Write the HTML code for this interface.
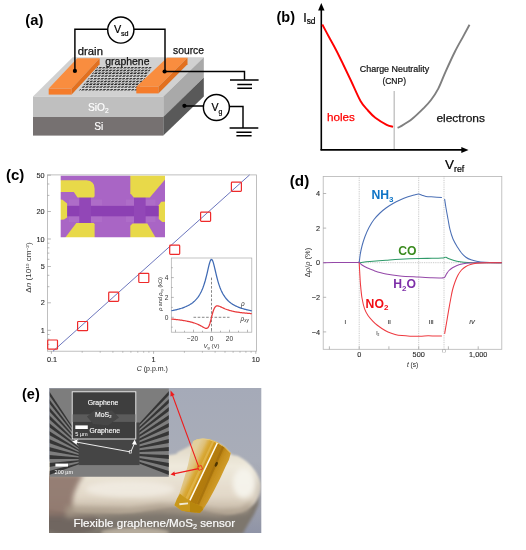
<!DOCTYPE html>
<html><head><meta charset="utf-8"><title>Graphene gas sensor figure</title>
<style>html,body{margin:0;padding:0;background:#fff}svg{display:block}text{font-family:'Liberation Sans', sans-serif}</style></head>
<body>
<svg width="526" height="550" viewBox="0 0 526 550">
<defs><filter id="b05" x="-5%" y="-5%" width="110%" height="110%"><feGaussianBlur stdDeviation="0.45"/></filter><filter id="b03" x="-5%" y="-5%" width="110%" height="110%"><feGaussianBlur stdDeviation="0.3"/></filter></defs>
<rect width="526" height="550" fill="#fff"/>
<g id="pa">
<polygon points="33.0,96.5 163.3,96.5 203.8,57.2 72.7,57.2" fill="#d1d1d1"/>
<rect x="33" y="96.5" width="130.3" height="20.7" fill="#bfbfbf"/>
<rect x="33" y="117" width="130.3" height="18.6" fill="#767171"/>
<polygon points="163.3,96.5 203.8,57.2 203.8,77.6 163.3,117.2" fill="#a9a9a9"/>
<polygon points="163.3,117.0 203.8,77.4 203.8,96.5 163.3,135.6" fill="#595959"/>
<defs><pattern id="hex" width="3.56" height="5.5" patternUnits="userSpaceOnUse" patternTransform="translate(78.7,91.2) skewX(-38)">
<rect width="3.56" height="5.5" fill="#dcdcdc"/><rect x="0.1" y="0.5" width="2.5" height="1.55" fill="#262626"/><rect x="1.88" y="3.25" width="1.68" height="1.55" fill="#262626"/><rect x="0" y="3.25" width="0.82" height="1.55" fill="#262626"/>
</pattern></defs>
<polygon points="97.8,66.6 152.4,66.6 137.0,91.0 78.7,91.0" fill="url(#hex)" filter="url(#b03)"/>
<polygon points="77.3,58.3 99.6,58.3 71.7,88.6 48.7,88.6" fill="#f98d3f"/><polygon points="48.7,88.6 71.7,88.6 71.7,94.6 48.7,94.6" fill="#f57c2b"/><polygon points="71.7,88.6 99.6,58.3 99.6,64.3 71.7,94.6" fill="#e2701f"/>
<polygon points="167.1,57.7 187.5,57.7 158.4,86.8 136.3,86.8" fill="#f98d3f"/><polygon points="136.3,86.8 158.4,86.8 158.4,93.4 136.3,93.4" fill="#f57c2b"/><polygon points="158.4,86.8 187.5,57.7 187.5,64.3 158.4,93.4" fill="#e2701f"/>
<path d="M74.9,71 V29.2 H107.7 M133.9,29.2 H165 V71.4 H244.5 V79.7" fill="none" stroke="#000" stroke-width="1.45"/>
<circle cx="120.8" cy="30" r="13.1" fill="#fff" stroke="#000" stroke-width="1.45"/>
<circle cx="74.9" cy="70.9" r="2.1"/><circle cx="164.6" cy="71.5" r="2.1"/>
<path d="M230,80 H258.6 M237.3,84.5 H252 M237.3,88.2 H252" fill="none" stroke="#000" stroke-width="1.45"/>
<path d="M184.4,106 H203.5 M229.5,106.5 H243 V127.9" fill="none" stroke="#000" stroke-width="1.45"/>
<circle cx="216.4" cy="107.5" r="13" fill="#fff" stroke="#000" stroke-width="1.45"/>
<circle cx="184.4" cy="105.8" r="2.1"/>
<path d="M229.6,128 H258.3 M236.4,132.3 H251.6 M236.4,135.7 H251.6" fill="none" stroke="#000" stroke-width="1.45"/>
<text x="25.3" y="25" font-size="14.8" font-weight="bold">(a)</text>
<text x="77.8" y="54.5" font-size="11.3" fill="#111" stroke="#111" stroke-width="0.25">drain</text>
<text x="105.3" y="65" font-size="11.3" fill="#111" stroke="#111" stroke-width="0.25" textLength="44.2" lengthAdjust="spacingAndGlyphs">graphene</text>
<text x="173" y="54.3" font-size="10.9" fill="#111" stroke="#111" stroke-width="0.25" textLength="31" lengthAdjust="spacingAndGlyphs">source</text>
<text x="114" y="33.3" font-size="10.8" stroke="#000" stroke-width="0.2">V<tspan font-size="7.2" dy="2.3" dx="-0.3">sd</tspan></text>
<text x="211.5" y="111.2" font-size="10.6" stroke="#000" stroke-width="0.2">V<tspan font-size="7" dy="2.3">g</tspan></text>
<text x="88" y="110.9" font-size="10.2" fill="#fff" stroke="#fff" stroke-width="0.15">SiO<tspan font-size="6.6" dy="2.3">2</tspan></text>
<text x="94.2" y="130" font-size="10.2" fill="#fff" stroke="#fff" stroke-width="0.15">Si</text>
</g>
<g id="pb">
<path d="M321.3,150.2 V9" stroke="#000" stroke-width="1.6" fill="none"/>
<polygon points="321.3,3 318.1,10.5 324.5,10.5" fill="#000"/>
<path d="M320.5,149.9 H462" stroke="#000" stroke-width="1.6" fill="none"/>
<polygon points="468.5,149.9 461.3,146.9 461.3,152.9" fill="#000"/>
<path d="M394.2,91 V149" stroke="#bdbdbd" stroke-width="1.3"/>
<path d="M322.30,24.50C323.42,26.58 326.68,32.72 329.00,37.00C331.32,41.28 333.87,45.70 336.20,50.20C338.53,54.70 340.55,58.95 343.00,64.00C345.45,69.05 347.98,74.33 350.90,80.50C353.82,86.67 357.65,96.00 360.50,101.00C363.35,106.00 365.53,107.70 368.00,110.50C370.47,113.30 372.18,115.42 375.30,117.80C378.42,120.18 383.75,123.30 386.70,124.80C389.65,126.30 391.95,126.47 393.00,126.80" stroke="#ff0000" stroke-width="1.9" fill="none"/>
<path d="M397.60,127.80C398.00,127.63 397.60,128.27 400.00,126.80C402.40,125.33 408.00,122.17 412.00,119.00C416.00,115.83 420.83,110.97 424.00,107.80C427.17,104.63 428.62,103.20 431.00,100.00C433.38,96.80 435.88,93.28 438.30,88.60C440.72,83.92 442.72,78.08 445.50,71.90C448.28,65.72 452.00,57.50 455.00,51.50C458.00,45.50 461.08,40.37 463.50,35.90C465.92,31.43 468.50,26.57 469.50,24.70" stroke="#7f7f7f" stroke-width="1.9" fill="none"/>
<text x="276.5" y="21.5" font-size="14.5" font-weight="bold">(b)</text>
<text x="303.2" y="21.5" font-size="12.5" stroke="#000" stroke-width="0.2">I<tspan font-size="8.4" dy="2.5">sd</tspan></text>
<text x="327" y="120.5" font-size="11.7" fill="#ff0000" stroke="#ff0000" stroke-width="0.25">holes</text>
<text x="436.4" y="121.6" font-size="11.7" fill="#111" stroke="#111" stroke-width="0.25" textLength="48.6" lengthAdjust="spacingAndGlyphs">electrons</text>
<text x="394.5" y="71.5" font-size="8.5" text-anchor="middle" fill="#111" stroke="#111" stroke-width="0.2" textLength="69.4" lengthAdjust="spacingAndGlyphs">Charge Neutrality</text>
<text x="394.2" y="83.5" font-size="8.5" text-anchor="middle" fill="#111" stroke="#111" stroke-width="0.2">(CNP)</text>
<text x="445" y="169" font-size="13.5" stroke="#000" stroke-width="0.2">V<tspan font-size="8.8" dy="2.5">ref</tspan></text>
</g>
<g id="pc_">
<rect x="47.4" y="174.9" width="209.1" height="176.29999999999998" fill="#fff" stroke="#b0b0b0" stroke-width="0.8"/>
<path d="M47.4,344.4h2M47.4,339.1h2M47.4,334.5h2M47.4,330.3h3.5M47.4,302.8h3.5M47.4,286.7h2M47.4,275.3h2M47.4,266.5h3.5M47.4,259.3h2M47.4,253.1h2M47.4,247.8h2M47.4,243.2h2M47.4,239.0h3.5M47.4,211.5h3.5M47.4,195.4h2M47.4,184.0h2M47.4,175.2h3.5M51.4,351.2v2.6M82.2,351.2v1.5M100.2,351.2v1.5M112.9,351.2v1.5M122.8,351.2v1.5M130.9,351.2v1.5M137.8,351.2v1.5M143.7,351.2v1.5M148.9,351.2v1.5M153.6,351.2v2.6M184.4,351.2v1.5M202.4,351.2v1.5M215.1,351.2v1.5M225.0,351.2v1.5M233.1,351.2v1.5M240.0,351.2v1.5M245.9,351.2v1.5M251.1,351.2v1.5M255.8,351.2v2.6" stroke="#999" stroke-width="0.7" fill="none"/>
<path d="M53,351.2 L249.6,174.9" stroke="#5b67b5" stroke-width="0.9" fill="none"/>
<g fill="none" stroke="#ee2a2a" stroke-width="1.2">
<rect x="47.7" y="340.0" width="9.8" height="9.2" rx="0.8"/>
<rect x="77.6" y="321.5" width="10.0" height="9.2" rx="0.8"/>
<rect x="108.7" y="292.1" width="10.0" height="9.2" rx="0.8"/>
<rect x="138.8" y="273.3" width="10.0" height="9.2" rx="0.8"/>
<rect x="169.7" y="245.1" width="10.0" height="9.2" rx="0.8"/>
<rect x="200.6" y="212.1" width="10.0" height="9.2" rx="0.8"/>
<rect x="231.4" y="182.2" width="10.0" height="9.2" rx="0.8"/>
</g>
<text x="44.7" y="177.8" text-anchor="end" font-size="7.3" fill="#2a2a2a" stroke="#2a2a2a" stroke-width="0.12">50</text>
<text x="44.7" y="214.1" text-anchor="end" font-size="7.3" fill="#2a2a2a" stroke="#2a2a2a" stroke-width="0.12">20</text>
<text x="44.7" y="241.6" text-anchor="end" font-size="7.3" fill="#2a2a2a" stroke="#2a2a2a" stroke-width="0.12">10</text>
<text x="44.7" y="269.1" text-anchor="end" font-size="7.3" fill="#2a2a2a" stroke="#2a2a2a" stroke-width="0.12">5</text>
<text x="44.7" y="305.4" text-anchor="end" font-size="7.3" fill="#2a2a2a" stroke="#2a2a2a" stroke-width="0.12">2</text>
<text x="44.7" y="332.9" text-anchor="end" font-size="7.3" fill="#2a2a2a" stroke="#2a2a2a" stroke-width="0.12">1</text>
<text x="52.0" y="362" text-anchor="middle" font-size="7.3" fill="#2a2a2a" stroke="#2a2a2a" stroke-width="0.12">0.1</text>
<text x="153.6" y="362" text-anchor="middle" font-size="7.3" fill="#2a2a2a" stroke="#2a2a2a" stroke-width="0.12">1</text>
<text x="255.8" y="362" text-anchor="middle" font-size="7.3" fill="#2a2a2a" stroke="#2a2a2a" stroke-width="0.12">10</text>
<text x="152.3" y="371" text-anchor="middle" font-size="7" fill="#222"><tspan font-style="italic">C</tspan> (p.p.m.)</text>
<text transform="translate(31.3,267.5) rotate(-90)" text-anchor="middle" font-size="7.4" fill="#333" textLength="50.5" lengthAdjust="spacingAndGlyphs">Δ<tspan font-style="italic">n</tspan> (10<tspan font-size="4.4" dy="-2.4">10</tspan><tspan dy="2.4"> cm</tspan><tspan font-size="4.4" dy="-2.4">−2</tspan><tspan dy="2.4">)</tspan></text>
<text x="6" y="180.3" font-size="15" font-weight="bold">(c)</text>
<defs><clipPath id="mc"><rect x="60.7" y="175.7" width="104.3" height="61.5"/></clipPath></defs>
<g clip-path="url(#mc)"><g filter="url(#b05)">
<rect x="58" y="173" width="110" height="67" fill="#a965c5"/>
<rect x="69" y="199.5" width="10.5" height="6" fill="#ae6dc8"/>
<rect x="91" y="199.5" width="11" height="6" fill="#ae6dc8"/>
<rect x="69" y="215.5" width="10.5" height="6.5" fill="#ae6dc8"/>
<rect x="91" y="215.5" width="11" height="6.5" fill="#ae6dc8"/>
<rect x="126" y="199.5" width="10" height="6" fill="#ae6dc8"/>
<rect x="145.5" y="199.5" width="10" height="6" fill="#ae6dc8"/>
<rect x="126" y="215.5" width="10" height="6.5" fill="#ae6dc8"/>
<rect x="145.5" y="215.5" width="10" height="6.5" fill="#ae6dc8"/>
<rect x="67" y="205.9" width="93" height="10.4" fill="#8c40b3"/>
<rect x="79.3" y="197" width="11.6" height="26.3" fill="#9247b7"/>
<rect x="134" y="197" width="11.6" height="26.3" fill="#9247b7"/>
<path d="M58,180.3 H86.6 Q94.6,180.8 94.6,188.8 V196.3 L93.5,197.4 H77.5 L73.8,191.9 H58 Z" fill="#e8d94a"/>
<polygon points="58.0,199.2 62.5,199.8 67.1,203.4 67.1,217.5 64.0,219.4 58.0,219.9" fill="#e8d94a"/>
<polygon points="65.0,238.0 76.3,222.9 93.7,222.9 94.6,224.2 94.6,238.0" fill="#e8d94a"/>
<polygon points="130.3,173.0 168.0,173.0 168.0,176.0 149.8,197.6 133.8,197.6 130.3,193.2" fill="#e8d94a"/>
<polygon points="168.0,201.5 161.2,201.8 158.8,205.2 158.8,219.0 162.3,222.0 168.0,222.0" fill="#e8d94a"/>
<polygon points="130.3,238.0 130.3,225.8 132.6,223.5 147.4,223.5 155.8,238.0" fill="#e8d94a"/>
</g></g>
<rect x="171.3" y="258" width="80.5" height="74.2" fill="#fff" stroke="#aaa" stroke-width="0.7"/>
<path d="M171.3,317.3h2.5M171.3,297.4h2.5M171.3,277.6h2.5M171.3,327.2h1.5M171.3,307.4h1.5M171.3,287.5h1.5M171.3,267.7h1.5M175.5,332.2v-2.5M193.5,332.2v-2.5M211.5,332.2v-2.5M229.5,332.2v-2.5M247.5,332.2v-2.5M184.5,332.2v-1.5M202.5,332.2v-1.5M220.5,332.2v-1.5M238.5,332.2v-1.5" stroke="#888" stroke-width="0.6" fill="none"/>
<path d="M211.5,277.6 V330.7 M193.5,317.3 H229.5" stroke="#555" stroke-width="0.7" stroke-dasharray="2.6,1.6" fill="none"/>
<path d="M171.36,310.76L172.04,310.63L172.71,310.50L173.39,310.36L174.06,310.22L174.74,310.08L175.41,309.93L176.09,309.77L176.76,309.61L177.44,309.44L178.11,309.26L178.79,309.08L179.46,308.89L180.14,308.69L180.82,308.48L181.49,308.27L182.17,308.04L182.84,307.81L183.52,307.56L184.19,307.30L184.87,307.03L185.54,306.75L186.22,306.45L186.89,306.14L187.57,305.81L188.24,305.46L188.92,305.10L189.60,304.71L190.27,304.30L190.95,303.86L191.62,303.40L192.30,302.91L192.97,302.39L193.65,301.83L194.32,301.24L195.00,300.60L195.67,299.91L196.35,299.17L197.02,298.38L197.70,297.52L198.38,296.59L199.05,295.58L199.73,294.48L200.40,293.29L201.08,291.98L201.75,290.54L202.43,288.97L203.10,287.25L203.78,285.35L204.45,283.27L205.13,281.00L205.80,278.53L206.48,275.87L207.16,273.04L207.83,270.12L208.51,267.21L209.18,264.47L209.86,262.11L210.53,260.38L211.21,259.49L211.88,259.56L212.56,260.57L213.23,262.39L213.91,264.81L214.58,267.59L215.26,270.51L215.93,273.42L216.61,276.23L217.29,278.87L217.96,281.32L218.64,283.56L219.31,285.62L219.99,287.49L220.66,289.19L221.34,290.74L222.01,292.16L222.69,293.45L223.36,294.63L224.04,295.72L224.71,296.72L225.39,297.64L226.07,298.49L226.74,299.28L227.42,300.01L228.09,300.68L228.77,301.32L229.44,301.91L230.12,302.46L230.79,302.98L231.47,303.47L232.14,303.92L232.82,304.36L233.49,304.76L234.17,305.15L234.85,305.51L235.52,305.86L236.20,306.18L236.87,306.49L237.55,306.79L238.22,307.07L238.90,307.34L239.57,307.59L240.25,307.84L240.92,308.07L241.60,308.30L242.27,308.51L242.95,308.72L243.63,308.91L244.30,309.10L244.98,309.28L245.65,309.46L246.33,309.63L247.00,309.79L247.68,309.95L248.35,310.10L249.03,310.24L249.70,310.38L250.38,310.52L251.05,310.65L251.73,310.78" stroke="#3f6ab4" stroke-width="1.25" fill="none"/>
<path d="M171.36,319.01L172.04,319.07L172.71,319.14L173.39,319.21L174.06,319.28L174.74,319.36L175.41,319.43L176.09,319.51L176.76,319.59L177.44,319.67L178.11,319.75L178.79,319.84L179.46,319.93L180.14,320.02L180.82,320.11L181.49,320.21L182.17,320.31L182.84,320.42L183.52,320.52L184.19,320.64L184.87,320.75L185.54,320.87L186.22,321.00L186.89,321.13L187.57,321.27L188.24,321.41L188.92,321.56L189.60,321.71L190.27,321.87L190.95,322.04L191.62,322.22L192.30,322.40L192.97,322.60L193.65,322.81L194.32,323.02L195.00,323.25L195.67,323.49L196.35,323.75L197.02,324.01L197.70,324.30L198.38,324.60L199.05,324.91L199.73,325.24L200.40,325.59L201.08,325.95L201.75,326.32L202.43,326.70L203.10,327.08L203.78,327.44L204.45,327.78L205.13,328.07L205.80,328.27L206.48,328.32L207.16,328.16L207.83,327.71L208.51,326.86L209.18,325.52L209.86,323.65L210.53,321.28L211.21,318.54L211.88,315.81L212.56,313.29L213.23,311.06L213.91,309.23L214.58,307.84L215.26,306.87L215.93,306.26L216.61,305.93L217.29,305.82L217.96,305.87L218.64,306.02L219.31,306.26L219.99,306.53L220.66,306.84L221.34,307.16L222.01,307.48L222.69,307.80L223.36,308.11L224.04,308.41L224.71,308.70L225.39,308.98L226.07,309.24L226.74,309.49L227.42,309.73L228.09,309.95L228.77,310.17L229.44,310.37L230.12,310.56L230.79,310.75L231.47,310.92L232.14,311.08L232.82,311.24L233.49,311.38L234.17,311.52L234.85,311.66L235.52,311.78L236.20,311.90L236.87,312.02L237.55,312.13L238.22,312.23L238.90,312.33L239.57,312.43L240.25,312.52L240.92,312.61L241.60,312.69L242.27,312.77L242.95,312.85L243.63,312.92L244.30,312.99L244.98,313.06L245.65,313.12L246.33,313.18L247.00,313.24L247.68,313.30L248.35,313.36L249.03,313.41L249.70,313.46L250.38,313.51L251.05,313.56L251.73,313.60" stroke="#e8383a" stroke-width="1.25" fill="none"/>
<text x="168.3" y="319.5" text-anchor="end" font-size="6.6" fill="#333">0</text>
<text x="168.3" y="299.6" text-anchor="end" font-size="6.6" fill="#333">2</text>
<text x="168.3" y="279.8" text-anchor="end" font-size="6.6" fill="#333">4</text>
<text x="192.5" y="341" text-anchor="middle" font-size="6.6" fill="#333">−20</text>
<text x="211.5" y="341" text-anchor="middle" font-size="6.6" fill="#333">0</text>
<text x="229.5" y="341" text-anchor="middle" font-size="6.6" fill="#333">20</text>
<text x="211.5" y="347.8" text-anchor="middle" font-size="6" fill="#333"><tspan font-style="italic">V</tspan><tspan font-size="3.8" dy="1.2">g</tspan><tspan dy="-1.2"> (V)</tspan></text>
<text transform="translate(162,294) rotate(-90)" text-anchor="middle" font-size="5.4" fill="#333"><tspan font-style="italic">ρ</tspan> and <tspan font-style="italic">ρ</tspan><tspan font-size="3.6" dy="1.2">xy</tspan><tspan dy="-1.2"> (kΩ)</tspan></text>
<text x="241" y="305.8" font-size="6.4" font-style="italic" fill="#333">ρ</text>
<text x="240.5" y="321" font-size="6.4" font-style="italic" fill="#333">ρ<tspan font-size="4.6" dy="1.4">xy</tspan></text>
</g>
<g id="pd">
<rect x="323.2" y="176.5" width="178.6" height="172.8" fill="#fff" stroke="#b5b5b5" stroke-width="0.8"/>
<path d="M323.2,331.9h3M323.2,297.3h3M323.2,262.7h3M323.2,228.1h3M323.2,193.5h3M329.4,349.3v-3M359.2,349.3v-3M388.9,349.3v-3M418.7,349.3v-3M448.4,349.3v-3M478.2,349.3v-3" stroke="#999" stroke-width="0.7" fill="none"/>
<path d="M359.2,176.5V349.3 M418.7,176.5V349.3 M444,176.5V349.3 M359.2,262.7H501.8" stroke="#aaa" stroke-width="0.7" stroke-dasharray="0.9,0.9" fill="none"/>
<path d="M359.20,262.70C359.38,261.25 359.83,256.78 360.30,254.00C360.77,251.22 361.22,248.92 362.00,246.00C362.78,243.08 363.83,239.58 365.00,236.50C366.17,233.42 367.50,230.33 369.00,227.50C370.50,224.67 372.17,221.92 374.00,219.50C375.83,217.08 378.00,214.92 380.00,213.00C382.00,211.08 383.83,209.58 386.00,208.00C388.17,206.42 390.67,204.83 393.00,203.50C395.33,202.17 397.50,201.12 400.00,200.00C402.50,198.88 405.67,197.63 408.00,196.80C410.33,195.97 412.22,195.47 414.00,195.00C415.78,194.53 417.37,193.97 418.70,194.00C420.03,194.03 420.78,194.80 422.00,195.20C423.22,195.60 424.00,196.10 426.00,196.40C428.00,196.70 431.35,196.80 434.00,197.00C436.65,197.20 440.58,197.50 441.90,197.60" stroke="#4a6fb5" stroke-width="1.05" fill="none"/>
<path d="M444.60,199.00C444.83,200.50 445.43,204.67 446.00,208.00C446.57,211.33 447.35,215.47 448.00,219.00C448.65,222.53 449.07,225.87 449.90,229.20C450.73,232.53 451.67,235.90 453.00,239.00C454.33,242.10 456.48,245.47 457.90,247.80C459.32,250.13 460.17,251.43 461.50,253.00C462.83,254.57 464.32,256.07 465.90,257.20C467.48,258.33 469.23,259.12 471.00,259.80C472.77,260.48 474.17,260.88 476.50,261.30C478.83,261.72 480.78,262.07 485.00,262.30C489.22,262.53 499.00,262.63 501.80,262.70" stroke="#4a6fb5" stroke-width="1.05" fill="none"/>
<path d="M359.20,262.70C361.00,262.52 365.53,262.00 370.00,261.60C374.47,261.20 381.00,260.68 386.00,260.30C391.00,259.92 394.55,259.60 400.00,259.30C405.45,259.00 413.37,258.67 418.70,258.50C424.03,258.33 428.13,258.38 432.00,258.30C435.87,258.22 439.82,258.12 441.90,258.00C443.98,257.88 443.82,257.72 444.50,257.60C445.18,257.48 445.25,257.10 446.00,257.30C446.75,257.50 447.67,258.25 449.00,258.80C450.33,259.35 452.17,260.10 454.00,260.60C455.83,261.10 457.67,261.48 460.00,261.80C462.33,262.12 464.67,262.35 468.00,262.50C471.33,262.65 474.37,262.67 480.00,262.70C485.63,262.73 498.17,262.70 501.80,262.70" stroke="#2f9a6a" stroke-width="1.05" fill="none"/>
<path d="M323.20,262.70C326.00,262.67 334.37,262.55 340.00,262.50C345.63,262.45 353.80,262.37 357.00,262.40C360.20,262.43 358.37,262.27 359.20,262.70C360.03,263.13 360.70,264.15 362.00,265.00C363.30,265.85 365.00,266.87 367.00,267.80C369.00,268.73 370.83,269.57 374.00,270.60C377.17,271.63 381.67,273.10 386.00,274.00C390.33,274.90 394.55,275.48 400.00,276.00C405.45,276.52 413.37,276.80 418.70,277.10C424.03,277.40 428.13,277.67 432.00,277.80C435.87,277.93 439.80,277.98 441.90,277.90C444.00,277.82 443.83,277.95 444.60,277.30C445.37,276.65 445.77,275.13 446.50,274.00C447.23,272.87 448.00,271.53 449.00,270.50C450.00,269.47 451.17,268.65 452.50,267.80C453.83,266.95 455.22,266.07 457.00,265.40C458.78,264.73 461.03,264.20 463.20,263.80C465.37,263.40 467.20,263.17 470.00,263.00C472.80,262.83 474.70,262.85 480.00,262.80C485.30,262.75 498.17,262.72 501.80,262.70" stroke="#9448a8" stroke-width="1.05" fill="none"/>
<path d="M359.20,262.70C359.28,264.25 359.48,268.35 359.70,272.00C359.92,275.65 360.12,280.27 360.50,284.60C360.88,288.93 361.33,294.00 362.00,298.00C362.67,302.00 363.50,305.68 364.50,308.60C365.50,311.52 366.67,313.47 368.00,315.50C369.33,317.53 371.00,319.22 372.50,320.80C374.00,322.38 375.45,323.72 377.00,325.00C378.55,326.28 379.97,327.33 381.80,328.50C383.63,329.67 385.78,331.02 388.00,332.00C390.22,332.98 392.77,333.80 395.10,334.40C397.43,335.00 399.52,335.30 402.00,335.60C404.48,335.90 407.00,336.08 410.00,336.20C413.00,336.32 417.00,336.37 420.00,336.30C423.00,336.23 425.50,335.85 428.00,335.80C430.50,335.75 432.68,335.95 435.00,336.00C437.32,336.05 440.75,336.08 441.90,336.10" stroke="#ee3a40" stroke-width="1.05" fill="none"/>
<path d="M444.60,333.80C444.92,332.00 445.85,326.77 446.50,323.00C447.15,319.23 447.83,315.03 448.50,311.20C449.17,307.37 449.83,303.53 450.50,300.00C451.17,296.47 451.75,293.00 452.50,290.00C453.25,287.00 454.10,284.45 455.00,282.00C455.90,279.55 456.82,277.30 457.90,275.30C458.98,273.30 460.17,271.47 461.50,270.00C462.83,268.53 464.40,267.42 465.90,266.50C467.40,265.58 468.73,265.03 470.50,264.50C472.27,263.97 473.92,263.58 476.50,263.30C479.08,263.02 481.78,262.90 486.00,262.80C490.22,262.70 499.17,262.72 501.80,262.70" stroke="#ee3a40" stroke-width="1.05" fill="none"/>
<text x="320" y="196.1" text-anchor="end" font-size="7.3" fill="#2a2a2a" stroke="#2a2a2a" stroke-width="0.12">4</text>
<text x="320" y="230.7" text-anchor="end" font-size="7.3" fill="#2a2a2a" stroke="#2a2a2a" stroke-width="0.12">2</text>
<text x="320" y="265.3" text-anchor="end" font-size="7.3" fill="#2a2a2a" stroke="#2a2a2a" stroke-width="0.12">0</text>
<text x="320" y="299.9" text-anchor="end" font-size="7.3" fill="#2a2a2a" stroke="#2a2a2a" stroke-width="0.12">−2</text>
<text x="320" y="334.5" text-anchor="end" font-size="7.3" fill="#2a2a2a" stroke="#2a2a2a" stroke-width="0.12">−4</text>
<text x="359.2" y="357.4" text-anchor="middle" font-size="7.3" fill="#2a2a2a" stroke="#2a2a2a" stroke-width="0.12">0</text>
<text x="418.7" y="357.4" text-anchor="middle" font-size="7.3" fill="#2a2a2a" stroke="#2a2a2a" stroke-width="0.12">500</text>
<text x="478.2" y="357.4" text-anchor="middle" font-size="7.3" fill="#2a2a2a" stroke="#2a2a2a" stroke-width="0.12">1,000</text>
<text x="412.6" y="366.6" text-anchor="middle" font-size="6.6" fill="#222"><tspan font-style="italic">t</tspan> (s)</text>
<text transform="translate(310.4,262.5) rotate(-90)" text-anchor="middle" font-size="7.2" fill="#333" textLength="29.3" lengthAdjust="spacingAndGlyphs">Δ<tspan font-style="italic">ρ</tspan>/<tspan font-style="italic">ρ</tspan> (%)</text>
<text x="345.3" y="323.8" font-size="5.6" fill="#333" stroke="#333" stroke-width="0.15" text-anchor="middle">I</text><text x="389.2" y="323.8" font-size="5.6" fill="#333" stroke="#333" stroke-width="0.15" text-anchor="middle">II</text><text x="431.2" y="323.8" font-size="5.6" fill="#333" stroke="#333" stroke-width="0.15" text-anchor="middle">III</text><text x="472" y="323.8" font-size="5.6" fill="#333" stroke="#333" stroke-width="0.15" text-anchor="middle" font-style="italic">IV</text>
<text x="377.8" y="335" font-size="5" fill="#444" stroke="#444" stroke-width="0.1" text-anchor="middle">I<tspan font-size="3.2" dy="1">2</tspan></text>
<text x="444" y="351.5" font-size="3.6" fill="#555" text-anchor="middle">( )</text>
<text x="289.8" y="186" font-size="15.2" font-weight="bold">(d)</text>
<text x="371.5" y="199.4" font-size="12.2" font-weight="bold" fill="#0f74c6">NH<tspan font-size="8" dy="2.6">3</tspan></text>
<text x="398.3" y="255" font-size="12.2" font-weight="bold" fill="#3a8a1e">CO</text>
<text x="393.3" y="288.3" font-size="12.2" font-weight="bold" fill="#7d2fa8">H<tspan font-size="8" dy="2.6">2</tspan><tspan dy="-2.6">O</tspan></text>
<text x="365.6" y="307.8" font-size="12.2" font-weight="bold" fill="#f20d14">NO<tspan font-size="8" dy="2.6">2</tspan></text>
</g>
<g id="pe">
<defs><clipPath id="pc"><rect x="49" y="388" width="212.3" height="145"/></clipPath><linearGradient id="bg" x1="0" y1="0" x2="0" y2="1"><stop offset="0" stop-color="#a5aab8"/><stop offset="0.5" stop-color="#a9adb8"/><stop offset="0.8" stop-color="#9da0ac"/><stop offset="1" stop-color="#8e93a6"/></linearGradient><linearGradient id="fg" x1="0" y1="0" x2="0" y2="1"><stop offset="0" stop-color="#ddd4c0"/><stop offset="0.35" stop-color="#eee9dc"/><stop offset="0.75" stop-color="#e2d8c8"/><stop offset="1" stop-color="#bfb2a0"/></linearGradient><linearGradient id="tg" x1="0" y1="0" x2="1" y2="0.35"><stop offset="0" stop-color="#dfbd6a"/><stop offset="0.3" stop-color="#dcaa34"/><stop offset="0.55" stop-color="#d39b1c"/><stop offset="0.75" stop-color="#c08a10"/><stop offset="1" stop-color="#cf9c22"/></linearGradient><filter id="b4" x="-20%" y="-20%" width="140%" height="140%"><feGaussianBlur stdDeviation="4"/></filter><filter id="b3" x="-20%" y="-20%" width="140%" height="140%"><feGaussianBlur stdDeviation="2.6"/></filter><filter id="b2" x="-20%" y="-20%" width="140%" height="140%"><feGaussianBlur stdDeviation="1.6"/></filter><filter id="b1" x="-20%" y="-20%" width="140%" height="140%"><feGaussianBlur stdDeviation="0.8"/></filter><clipPath id="sc"><rect x="49.8" y="388.6" width="119" height="88.2"/></clipPath></defs>
<g clip-path="url(#pc)">
<rect x="47" y="386" width="216.3" height="149" fill="url(#bg)"/>
<g filter="url(#b2)">
<path d="M40.00,500.00L100.12,508.83L160.00,504.84L219.88,510.83L243.83,508.83L253.81,503.84L259.20,493.86L258.20,504.84L253.81,514.82L247.82,524.80L242.83,533.78L40.00,545.00Z" fill="#7d766d"/>
<ellipse cx="70" cy="522" rx="30" ry="12" fill="#6f6660"/>
<ellipse cx="135" cy="532.5" rx="34" ry="4.5" fill="#b5ab9c"/>
</g>
<g filter="url(#b1)">
<path d="M40.00,462.00C50.00,461.33 78.50,459.18 100.00,458.00C121.50,456.82 155.99,455.95 168.98,454.94C181.98,453.93 175.14,453.11 177.96,451.95C180.79,450.78 183.45,449.28 185.95,447.95C188.44,446.62 190.11,445.29 192.93,443.96C195.76,442.63 198.42,439.97 202.91,439.97C207.41,439.97 215.22,441.63 219.88,443.96C224.54,446.29 227.86,451.95 230.86,453.94C233.85,455.94 235.35,454.77 237.84,455.94C240.34,457.10 243.33,458.93 245.83,460.93C248.32,462.92 250.82,465.42 252.81,467.91C254.81,470.41 256.54,473.07 257.80,475.90C259.07,478.73 260.17,481.89 260.40,484.88C260.63,487.87 260.13,490.87 259.20,493.86C258.27,496.86 256.71,500.28 254.81,502.84C252.91,505.41 250.32,507.57 247.82,509.23C245.33,510.89 243.17,511.96 239.84,512.82C236.51,513.69 232.19,514.42 227.86,514.42C223.54,514.42 218.55,513.59 213.89,512.82C209.23,512.06 205.58,510.76 199.92,509.83C194.26,508.90 186.61,507.40 179.96,507.24C173.31,507.07 168.32,507.90 160.00,508.83C151.68,509.76 140.04,512.16 130.06,512.82C120.08,513.49 110.13,512.96 100.12,512.82C90.11,512.69 80.02,512.80 70.00,512.00C59.98,511.20 45.00,508.67 40.00,508.00Z" fill="url(#fg)"/>
</g>
<g filter="url(#b3)">
<path d="M40,474 H84 C74,490 70,500 74,516 H40 Z" fill="#8c7469" opacity="0.9"/>
<path d="M66.00,506.00L130.06,507.83L160.00,503.84L189.94,504.84L219.88,509.83L239.84,508.43L253.81,500.85L247.82,512.82L219.88,516.82L160.00,512.82L66.00,518.00Z" fill="#a89b8a" opacity="0.75"/>
<path d="M253.81,467.91L260.40,484.88L259.20,494.86L253.81,504.84L256.21,492.86L256.81,482.88Z" fill="#bdb6ab" opacity="0.8"/>
<ellipse cx="243.8" cy="482.9" rx="11" ry="15" fill="#f6f3ec" opacity="0.95"/>
<ellipse cx="130" cy="489" rx="45" ry="8" fill="#f1ece3" opacity="0.85"/>
</g>
<defs><linearGradient id="tg2" gradientUnits="userSpaceOnUse" x1="187.9" y1="464.9" x2="219.3" y2="479.9"><stop offset="0" stop-color="#e2cf9c"/><stop offset="0.16" stop-color="#dfc078"/><stop offset="0.27" stop-color="#d9aa3a"/><stop offset="0.40" stop-color="#d29a1e"/><stop offset="0.49" stop-color="#cf9418"/><stop offset="0.53" stop-color="#b47c0c"/><stop offset="0.68" stop-color="#b17a0e"/><stop offset="0.80" stop-color="#c58e1c"/><stop offset="1" stop-color="#d09c2a"/></linearGradient></defs>
<g filter="url(#b05)">
<path d="M192.93,441.37L196.93,439.37L202.91,438.57L209.90,439.37L217.88,442.56L224.87,446.96L230.86,452.94L228.86,459.93L225.87,465.92L219.88,478.89L213.89,490.87L207.90,501.85L202.91,509.83L199.92,512.82L189.94,512.03L181.96,510.83L174.37,505.24L176.97,498.85L179.96,491.87L183.95,478.89L187.94,464.92L190.94,450.95Z" fill="url(#tg2)"/>
<path d="M193.13,441.77L197.13,439.77L202.91,438.97L209.90,439.77L217.88,442.96L224.87,447.36L230.66,453.14" fill="none" stroke="#e9cf84" stroke-width="0.9" opacity="0.9"/>
<path d="M222.28,445.96L224.27,446.96L199.12,504.84L197.13,504.04Z" fill="#9a6808" opacity="0.55"/>
<path d="M212.30,440.97L214.29,441.57L187.94,499.25L185.55,498.05Z" fill="#e3bb55" opacity="0.7"/>
<path d="M179.96,493.86L189.94,501.85L202.32,506.84L202.91,509.83L199.92,512.82L189.94,512.03L181.96,510.83L174.37,505.24L176.97,498.85Z" fill="#c9981c"/>
<path d="M189.94,501.85L202.32,506.84L202.91,509.83L199.92,512.82L189.94,512.03Z" fill="#b8860f"/>
<path d="M179.16,503.24L187.94,502.45L188.14,504.24L179.56,505.24Z" fill="#f0e8d2"/>
<ellipse cx="216.3" cy="464.3" rx="1.3" ry="2.6" fill="#4e3404" transform="rotate(25 216.3 464.3)"/>
</g>
<path d="M217.3,443.0 L189.9,500.4" stroke="#fffdf2" stroke-width="1.5" filter="url(#b03)"/>
<g filter="url(#b03)">
<path d="M198.6,466.6 L172.2,394.5 M198.4,468.6 L173.5,473.9" stroke="#ee1c1c" stroke-width="1.1" fill="none"/>
<polygon points="170.6,390.6 170.5,396.6 174.7,395" fill="#ee1c1c"/><polygon points="170.5,474.5 175.2,476 174.4,471.6" fill="#ee1c1c"/>
<rect x="198.2" y="466" width="3.8" height="3.8" fill="none" stroke="#ee1c1c" stroke-width="0.7" transform="rotate(-18 200 468)"/>
</g>
<g clip-path="url(#sc)">
<rect x="49" y="388" width="121" height="90" fill="#7d7d7d"/>
<g filter="url(#b05)">
<polygon points="49.0,391.0 49.0,395.0 79.0,437.8 79.0,436.5" fill="#353535"/><polygon points="49.0,399.0 49.0,403.0 79.0,440.5 79.0,439.1" fill="#353535"/><polygon points="49.0,407.0 49.0,411.0 79.0,443.1 79.0,441.8" fill="#353535"/><polygon points="49.0,415.0 49.0,419.0 79.0,445.7 79.0,444.4" fill="#353535"/><polygon points="49.0,423.0 49.0,427.0 79.0,448.4 79.0,447.0" fill="#353535"/><polygon points="49.0,431.0 49.0,435.0 79.0,451.0 79.0,449.7" fill="#353535"/><polygon points="49.0,439.0 49.0,443.0 79.0,453.6 79.0,452.3" fill="#353535"/><polygon points="49.0,447.0 49.0,451.0 79.0,456.3 79.0,455.0" fill="#353535"/><polygon points="49.0,455.0 49.0,459.0 79.0,458.9 79.0,457.6" fill="#353535"/><polygon points="49.0,463.0 49.0,467.0 79.0,461.5 79.0,460.2" fill="#353535"/><polygon points="49.0,471.0 49.0,475.0 79.0,464.2 79.0,462.9" fill="#353535"/>
<polygon points="169.0,391.0 169.0,395.0 139.2,425.4 139.2,423.5" fill="#353535"/><polygon points="169.0,399.0 169.0,403.0 139.2,429.2 139.2,427.3" fill="#353535"/><polygon points="169.0,407.0 169.0,411.0 139.2,433.0 139.2,431.1" fill="#353535"/><polygon points="169.0,415.0 169.0,419.0 139.2,436.9 139.2,435.0" fill="#353535"/><polygon points="169.0,423.0 169.0,427.0 139.2,440.7 139.2,438.8" fill="#353535"/><polygon points="169.0,431.0 169.0,435.0 139.2,444.5 139.2,442.6" fill="#353535"/><polygon points="169.0,439.0 169.0,443.0 139.2,448.3 139.2,446.4" fill="#353535"/><polygon points="169.0,447.0 169.0,451.0 139.2,452.1 139.2,450.2" fill="#353535"/><polygon points="169.0,455.0 169.0,459.0 139.2,456.0 139.2,454.0" fill="#353535"/><polygon points="169.0,463.0 169.0,467.0 139.2,459.8 139.2,457.9" fill="#353535"/><polygon points="169.0,471.0 169.0,475.0 139.2,463.6 139.2,461.7" fill="#353535"/>
</g>
<rect x="78.6" y="422.5" width="60.9" height="42.6" fill="#454545"/>
<rect x="72.2" y="391.8" width="63.6" height="47.2" fill="#3e3e3e" stroke="#f4f4f4" stroke-width="0.9"/>
<rect x="72.7" y="414.3" width="62.6" height="7.6" fill="#5b5b5b"/>
<path d="M87,416.5 L95,410 L112,410.5 L119,417.5 L108,425.5 L93,424 Z" fill="#464646" filter="url(#b05)"/>
<path d="M130.3,451.9 L75.5,441.9 M131.2,451 L134.4,443.5" stroke="#fff" stroke-width="0.9" fill="none"/>
<polygon points="72.2,441.3 77.6,439.5 76.6,444.4" fill="#fff"/><polygon points="134.7,439.6 132,444.3 136.9,444.8" fill="#fff"/>
<rect x="129.2" y="450.7" width="2.4" height="2.4" fill="none" stroke="#fff" stroke-width="0.6"/>
<rect x="75.3" y="425.4" width="12.5" height="3.6" fill="#fff"/>
<rect x="55.4" y="463.6" width="12.6" height="3" fill="#fff"/>
<text x="103" y="405.3" text-anchor="middle" fill="#fff" font-size="6.9" stroke="#fff" stroke-width="0.12">Graphene</text>
<text x="103.2" y="417.2" text-anchor="middle" fill="#fff" font-size="6.9" stroke="#fff" stroke-width="0.12">MoS<tspan font-size="4" dy="1.2">2</tspan></text>
<text x="89.5" y="433.4" fill="#fff" font-size="6.9" stroke="#fff" stroke-width="0.12">Graphene</text>
<text x="75.2" y="436" fill="#fff" font-size="5.6">5 µm</text>
<text x="54.6" y="473.8" fill="#fff" font-size="5.5">200 µm</text>
</g>
<text x="73.4" y="526.8" fill="#fbfbfb" stroke="#fbfbfb" stroke-width="0.2" font-size="11.4" textLength="161.8" lengthAdjust="spacingAndGlyphs">Flexible graphene/MoS<tspan font-size="7" dy="2">2</tspan><tspan dy="-2"> sensor</tspan></text>
</g>
<text x="22" y="399" font-size="14.5" font-weight="bold">(e)</text>
</g>
</svg>
</body></html>
